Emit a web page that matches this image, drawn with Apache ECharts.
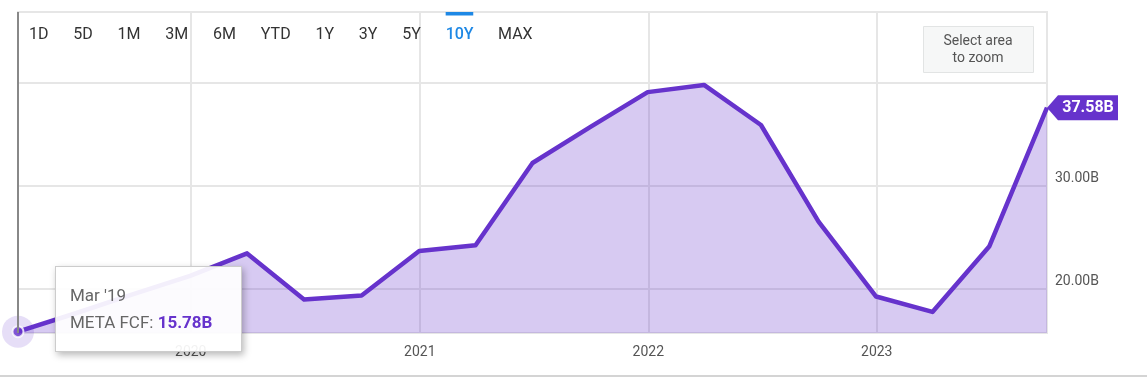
<!DOCTYPE html>
<html><head><meta charset="utf-8">
<script src="https://cdn.jsdelivr.net/npm/echarts@6/dist/echarts.min.js"></script>
<style>html,body{margin:0;padding:0;background:#fff}#c{width:1147px;height:378px}</style>
</head><body><div id="c"></div>
<script>
const quarterEnds = ['2019-03-31','2019-06-30','2019-09-30','2019-12-31','2020-03-31','2020-06-30','2020-09-30','2020-12-31','2021-03-31','2021-06-30','2021-09-30','2021-12-31','2022-03-31','2022-06-30','2022-09-30','2022-12-31','2023-03-31','2023-06-30','2023-09-30'];
const fcfBillions = [15.78,17.55,19.4,21.21,23.4,18.9,19.3,23.63,24.2,32.2,35.7,39.1,39.8,35.9,26.5,19.2,17.7,24.1,37.58];
const yearTicks = ['2020','2021','2022','2023'];
const yGridValues = [20,30,40];
const yLabelValues = [20,30];
const rangeButtons = ['1D','5D','1M','3M','6M','YTD','1Y','3Y','5Y','10Y','MAX'];
const activeRange = '10Y';
const seriesName = 'META FCF';
const hoverIndex = 0;

const PURPLE = '#6633cc';
const FONT = 'Roboto';
const MONTHS = ['Jan','Feb','Mar','Apr','May','Jun','Jul','Aug','Sep','Oct','Nov','Dec'];

const times = quarterEnds.map(d => Date.parse(d + 'T00:00:00Z'));
const points = times.map((t, i) => [t, fcfBillions[i]]);
const yearValues = yearTicks.map(y => Date.UTC(+y, 0, 1));
const last = points.length - 1;

// range buttons layout
const ctx = document.createElement('canvas').getContext('2d');
const btnFont = '16px ' + FONT;
ctx.font = btnFont;
let bx = 29;
const buttonEls = [];
rangeButtons.forEach(lbl => {
  const w = ctx.measureText(lbl).width;
  const active = lbl === activeRange;
  buttonEls.push({type:'text', x: bx, y: 35, z: 10, style:{text: lbl, font: (active ? '500 ' : '') + btnFont, fill: active ? '#1e88e5' : '#333', verticalAlign: 'middle'}});
  if (active) buttonEls.push({type:'rect', shape:{x: bx, y: 12, width: w, height: 3.5}, style:{fill:'#1e88e5'}, z: 10});
  bx += w + 24.8;
});

const chart = echarts.init(document.getElementById('c'), null, {renderer:'canvas'});
chart.setOption({
  animation: false,
  textStyle: {fontFamily: FONT},
  grid: {left: 18, right: 100, top: 12, bottom: 45, show: true, borderColor: '#e6e6e6', borderWidth: 2, backgroundColor: 'transparent'},
  xAxis: {
    type: 'value',
    min: times[0], max: times[last],
    axisLine: {show: false}, axisTick: {show: false, customValues: yearValues},
    splitLine: {show: true, lineStyle: {color: '#e6e6e6', width: 2}},
    axisLabel: {customValues: yearValues, formatter: v => String(new Date(v).getUTCFullYear()), color: '#555', fontSize: 14, margin: 12, fontFamily: FONT}
  },
  yAxis: {
    type: 'value', position: 'right',
    min: 15.65, max: 46.9,
    axisLine: {show: false}, axisTick: {show: false, customValues: yGridValues},
    splitLine: {show: true, lineStyle: {color: '#e6e6e6', width: 2}},
    axisLabel: {customValues: yLabelValues, formatter: v => v.toFixed(2) + 'B', color: '#555', fontSize: 14, margin: 8, verticalAlign: 'bottom', fontFamily: FONT}
  },
  tooltip: {
    trigger: 'axis',
    alwaysShowContent: true,
    showDelay: 0, hideDelay: 0, transitionDuration: 0,
    backgroundColor: 'rgba(255,255,255,0.92)',
    borderColor: '#cccccc', borderWidth: 1,
    padding: [15, 29, 15, 14],
    extraCssText: 'box-shadow: 2px 3px 7px rgba(0,0,0,0.28); border-radius:0;',
    axisPointer: {type: 'line', snap: true, lineStyle: {color: '#888', width: 2, type: 'solid'}, label: {show: false}},
    position: (pt) => [pt[0] + 37, pt[1] - 66],
    formatter: (params) => {
      const p = params.find(q => q.seriesIndex === 0) || params[0];
      const d = new Date(p.value[0]);
      const lab = MONTHS[d.getUTCMonth()] + " '" + String(d.getUTCFullYear()).slice(2);
      return '<div style="font-family:Roboto;font-size:17px;line-height:27px;color:#666">' + lab +
        '<br/>' + seriesName + ': <b style="color:' + PURPLE + '">' + p.value[1].toFixed(2) + 'B</b></div>';
    }
  },
  series: [
    {
      name: seriesName, type: 'line', data: points, symbol: 'none', z: 3,
      lineStyle: {color: PURPLE, width: 4.5, join: 'round'},
      areaStyle: {color: 'rgba(102,51,204,0.26)', opacity: 1},
      emphasis: {disabled: true},
      markPoint: {
        silent: true,
        symbol: 'path://M0,12.5L11,0L71,0L71,25L11,25Z',
        symbolSize: [71, 25], symbolOffset: [35.5, 0], symbolKeepAspect: false,
        itemStyle: {color: PURPLE},
        label: {show: true, position: 'inside', offset: [5.5, 0], color: '#fff', fontWeight: 'bold', fontSize: 16, fontFamily: FONT, formatter: p => p.value.toFixed(2) + 'B'},
        data: [{coord: points[last], value: fcfBillions[last]}]
      }
    },
    {
      type: 'scatter', data: [points[hoverIndex]], symbolSize: 32, z: 2, silent: true,
      itemStyle: {color: 'rgba(102,51,204,0.2)'}, emphasis: {disabled: true}, tooltip: {show: false}
    },
    {
      type: 'scatter', data: [points[hoverIndex]], symbolSize: 11, z: 4, silent: true,
      itemStyle: {color: PURPLE, borderColor: '#fff', borderWidth: 2}, emphasis: {disabled: true}, tooltip: {show: false}
    }
  ],
  graphic: [
    ...buttonEls,
    {type:'rect', shape:{x: 923.5, y: 26.5, width: 110, height: 46}, style:{fill:'#f6f7f7', stroke:'#e2e4e4', lineWidth: 1}, z: 10},
    {type:'text', x: 978, y: 50, z: 11, style:{text:'Select area\nto zoom', font: '14px ' + FONT, fill:'#555', align:'center', verticalAlign:'middle', lineHeight: 17}},
    {type:'rect', shape:{x: 0, y: 375, width: 1147, height: 2}, style:{fill:'#d4d4d4'}, z: 10}
  ]
});
chart.dispatchAction({type: 'showTip', seriesIndex: 0, dataIndex: hoverIndex});
</script>
</body></html>
